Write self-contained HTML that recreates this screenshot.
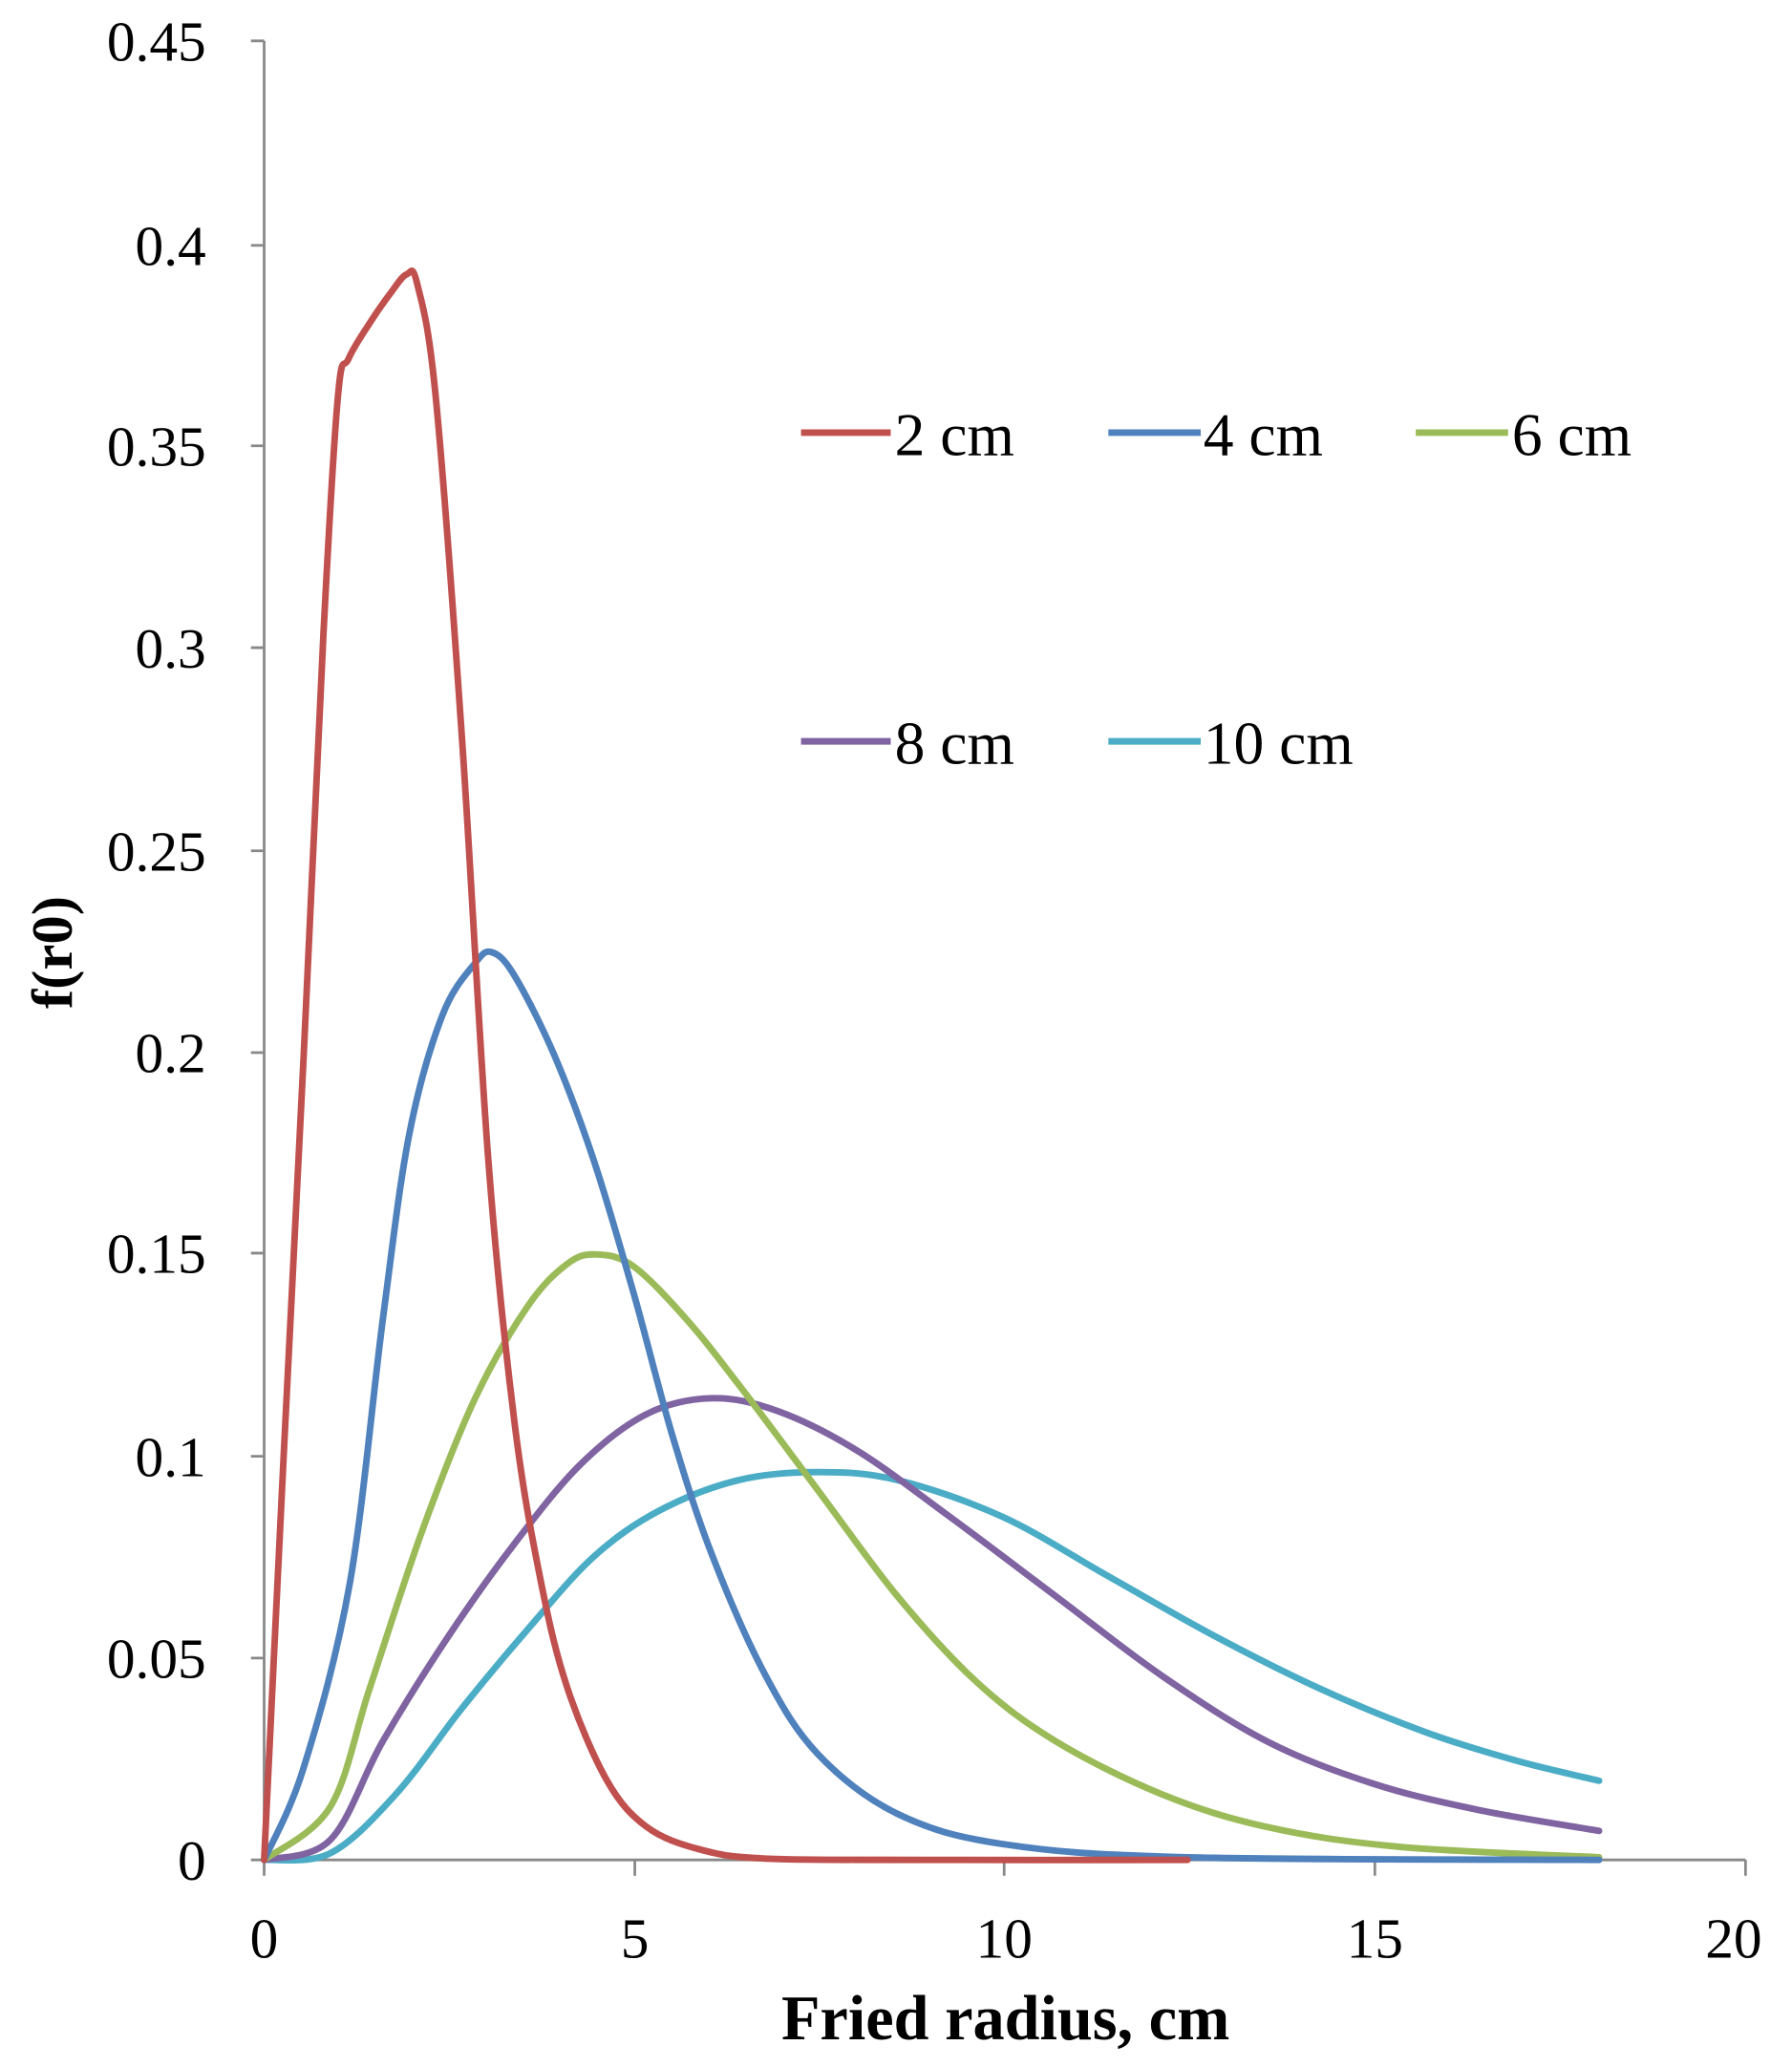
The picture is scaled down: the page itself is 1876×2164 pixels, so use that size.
<!DOCTYPE html>
<html><head><style>html,body{margin:0;padding:0;background:#fff}svg{display:block}</style></head>
<body>
<svg width="1876" height="2164" viewBox="0 0 1358 1567" xmlns="http://www.w3.org/2000/svg" font-family="Liberation Serif, serif">
<rect width="1358" height="1567" fill="#fff"/>
<g stroke="#888" stroke-width="2" fill="none">
<line x1="200" y1="31" x2="200" y2="1410"/>
<line x1="200" y1="1410" x2="1323" y2="1410"/>
<path d="M190 31H200M190 186H200M190 338H200M190 491H200M190 645H200M190 798H200M190 950H200M190 1104H200M190 1257H200M190 1410H200"/>
<path d="M200 1410V1422M481 1410V1422M761 1410V1422M1042 1410V1422M1323 1410V1422"/>
</g>
<g font-size="43" text-anchor="end" fill="#000">
<text x="156" y="46">0.45</text><text x="156" y="201">0.4</text><text x="156" y="353">0.35</text><text x="156" y="506">0.3</text><text x="156" y="660">0.25</text><text x="156" y="813">0.2</text><text x="156" y="965">0.15</text><text x="156" y="1119">0.1</text><text x="156" y="1272">0.05</text><text x="156" y="1425">0</text>
</g>
<g font-size="43" text-anchor="middle" fill="#000">
<text x="200" y="1484">0</text><text x="481" y="1484">5</text><text x="761" y="1484">10</text><text x="1042" y="1484">15</text><text x="1314" y="1484">20</text>
</g>
<text x="762" y="1546" font-size="48" font-weight="bold" text-anchor="middle">Fried radius, cm</text>
<text transform="translate(54,722) rotate(-90)" font-size="44" font-weight="bold" text-anchor="middle">f(r0)</text>
<g fill="none" stroke-width="5" stroke-linejoin="round" stroke-linecap="round">
<polyline class="s" stroke="#4bacc6" points="200,1410 250,1405 300,1360 350,1295 400,1235 450,1180 500,1145 560,1122 620,1116 680,1122 760,1150 840,1195 920,1240 1000,1280 1080,1313 1150,1335 1212,1350"/>
<polyline class="s" stroke="#8064a2" points="200,1410 250,1395 290,1320 340,1240 390,1170 440,1110 490,1072 540,1060 590,1070 650,1100 720,1150 800,1210 880,1270 960,1320 1040,1352 1120,1372 1212,1388"/>
<polyline class="s" stroke="#9bbb59" points="200,1410 250,1370 280,1280 320,1160 360,1060 400,990 430,958 452,951 480,960 520,1000 560,1050 620,1130 680,1210 740,1275 800,1320 880,1360 960,1385 1060,1400 1212,1408"/>
<polyline class="s" stroke="#4f81bd" points="200,1410 230,1340 265,1200 290,1000 310,860 335,770 360,730 373,722 390,740 420,800 450,880 480,980 510,1090 540,1180 580,1270 620,1330 680,1375 760,1398 900,1408 1212,1410"/>
<polyline class="s" stroke="#c0504d" points="200,1410 215,1100 230,800 245,480 256,300 264,272 280,245 296,222 308,208 316,215 330,300 350,560 370,880 390,1080 410,1200 430,1280 460,1350 490,1385 530,1402 580,1409 700,1410 900,1410"/>
</g>
<g stroke-width="5">
<line x1="607" y1="328" x2="675" y2="328" stroke="#c0504d"/>
<line x1="840" y1="328" x2="910" y2="328" stroke="#4f81bd"/>
<line x1="1073" y1="328" x2="1143" y2="328" stroke="#9bbb59"/>
<line x1="607" y1="562" x2="675" y2="562" stroke="#8064a2"/>
<line x1="840" y1="562" x2="910" y2="562" stroke="#4bacc6"/>
</g>
<g font-size="46" fill="#000">
<text x="678" y="345">2 cm</text><text x="912" y="345">4 cm</text><text x="1146" y="345">6 cm</text>
<text x="678" y="579">8 cm</text><text x="912" y="579">10 cm</text>
</g>
</svg>
<script>
document.querySelectorAll('polyline.s').forEach(function(pl){
  var p=pl.getAttribute('points').trim().split(/\s+/).map(function(s){return s.split(',').map(Number);});
  var d='M'+p[0][0]+' '+p[0][1];
  for(var i=0;i<p.length-1;i++){
    var p0=p[i-1]||p[i],p1=p[i],p2=p[i+1],p3=p[i+2]||p2;
    var c1=[p1[0]+(p2[0]-p0[0])/6,p1[1]+(p2[1]-p0[1])/6];
    var c2=[p2[0]-(p3[0]-p1[0])/6,p2[1]-(p3[1]-p1[1])/6];
    d+=' C'+c1[0]+' '+c1[1]+' '+c2[0]+' '+c2[1]+' '+p2[0]+' '+p2[1];
  }
  var path=document.createElementNS('http://www.w3.org/2000/svg','path');
  path.setAttribute('d',d);path.setAttribute('stroke',pl.getAttribute('stroke'));
  pl.parentNode.replaceChild(path,pl);
});
</script>
</body></html>
